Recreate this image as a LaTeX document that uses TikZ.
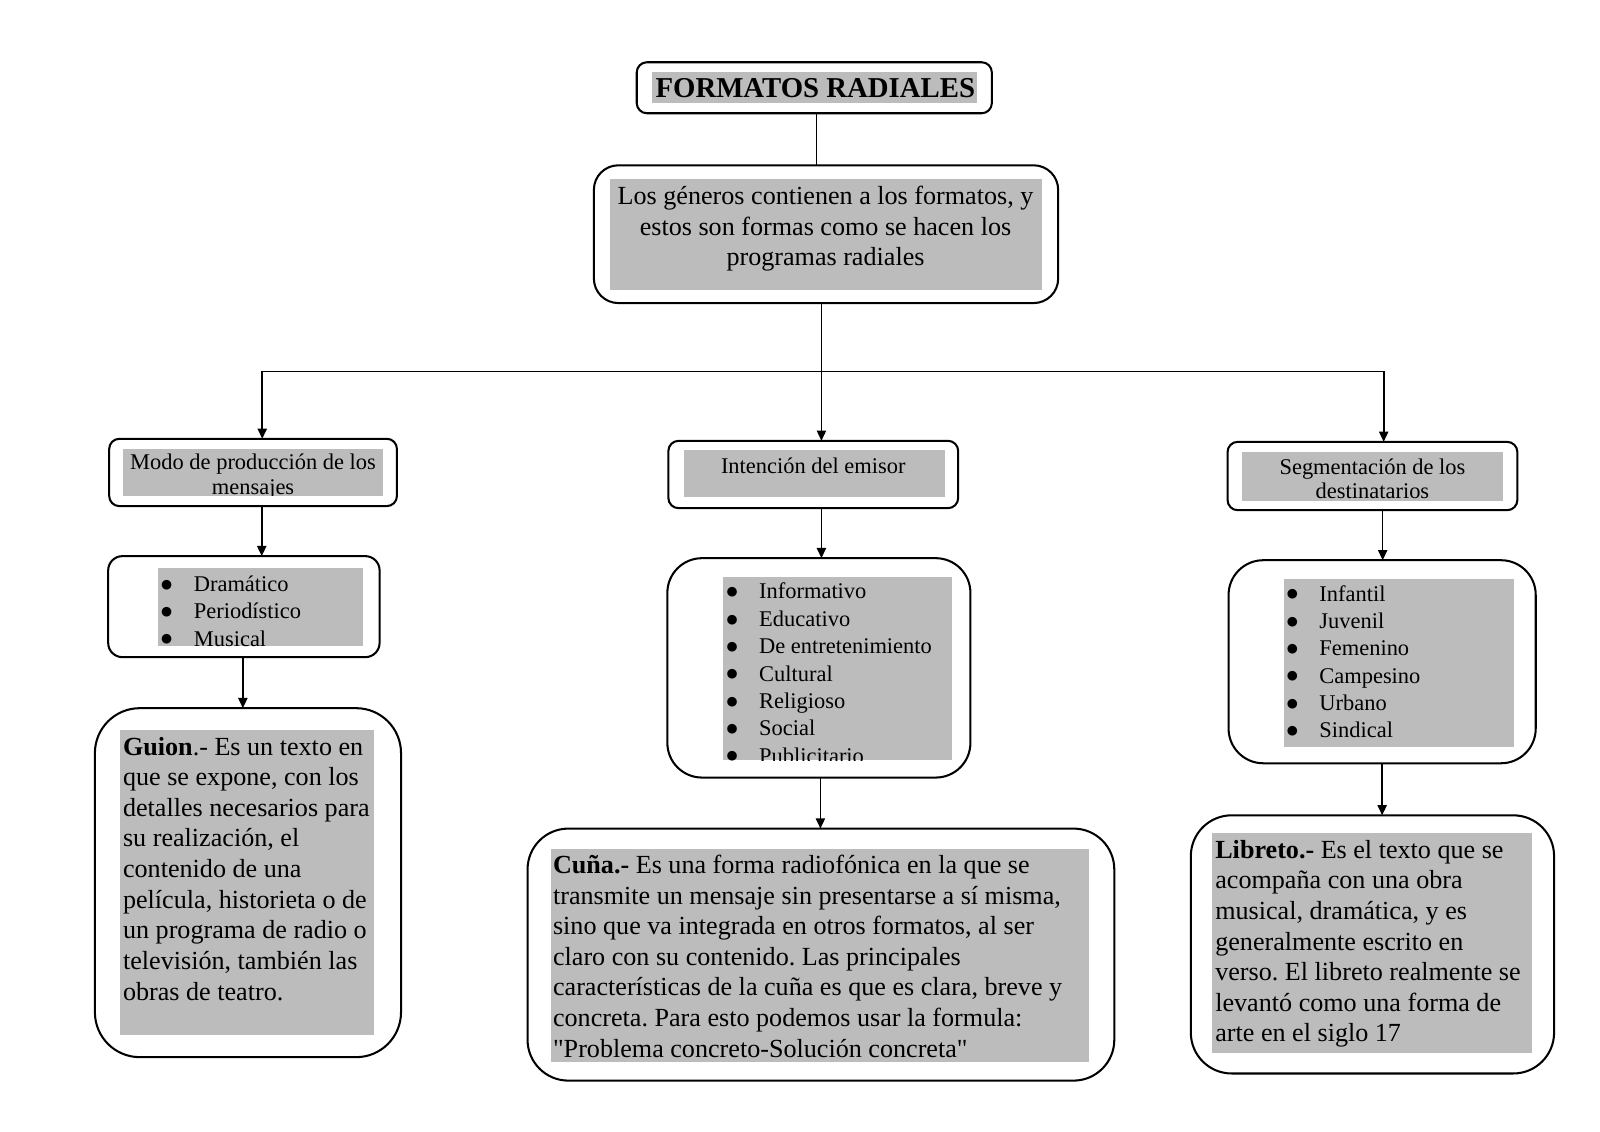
\documentclass[tikz,border=0pt]{standalone}
\usepackage{fontspec}
\setmainfont{Liberation Serif}[Ligatures=TeXOff]
\newfontfamily\dejavu{DejaVu Sans}
\usetikzlibrary{arrows.meta}
\definecolor{shade}{RGB}{188,188,188}
\newcommand{\bul}{\makebox[16pt][l]{\raisebox{1.6pt}{\dejavu\fontsize{6.2}{8}\selectfont ●}}}
\frenchspacing
\begin{document}
\begin{tikzpicture}[x=0.5pt,y=-0.5pt,
  obox/.style={draw=black, line width=1pt, fill=white, inner sep=0pt, outer sep=0pt},
  gbox/.style={fill=shade, draw=none, inner sep=0pt, outer sep=0pt},
  txt/.style={inner sep=0pt, outer sep=0pt, text=black},
  para/.style={txt, anchor=base west, font=\fontsize{12.8}{15}\selectfont},
  head/.style={txt, anchor=base, font=\fontsize{11}{12}\selectfont},
  lst/.style={txt, anchor=base west, font=\fontsize{11}{13.4}\selectfont},
  conn/.style={line width=0.8pt, draw=black},
  arr/.style={conn, -{Triangle[length=5pt,width=4.5pt]}}
]
\useasboundingbox (0,0) rectangle (1568,1108.4);

% ---------- title ----------
\node[obox, rounded corners=5pt, minimum width=174pt, minimum height=25pt] (title) at (798,86) {};
\node[gbox, minimum width=159pt, minimum height=15.25pt] (titleg) at (798,85.75) {};
\node[txt, anchor=base, font=\fontsize{14.1}{16}\selectfont\bfseries] (titlet) at (799,96) {FORMATOS RADIALES};

% ---------- central ----------
\node[obox, rounded corners=12pt, minimum width=227.5pt, minimum height=67.5pt] (central) at (809.5,229.5) {};
\node[gbox, minimum width=211.5pt, minimum height=54.5pt] (centralg) at (809.5,229.5) {};
\node[txt, anchor=base, font=\fontsize{12.8}{15}\selectfont] (centralt) at (809,200.5)
  {\begin{tabular}[t]{@{}c@{}}Los géneros contienen a los formatos, y\\ estos son formas como se hacen los\\ programas radiales\end{tabular}};

% ---------- level 2 headers ----------
\node[obox, rounded corners=5pt, minimum width=141pt, minimum height=33pt] (lh) at (248,463) {};
\node[gbox, minimum width=127pt, minimum height=23pt] (lhg) at (248,463) {};
\begin{scope}
  \clip (lhg.south west) rectangle (lhg.north east);
  \node[head] (lht) at (248,460.5) {\begin{tabular}[t]{@{}c@{}}Modo de producción de los\\ mensajes\end{tabular}};
\end{scope}

\node[obox, rounded corners=5pt, minimum width=142pt, minimum height=33pt] (mh) at (797,465) {};
\node[gbox, minimum width=128pt, minimum height=23pt] (mhg) at (798,464) {};
\node[head] (mht) at (797,464) {Intención del emisor};

\node[obox, rounded corners=5pt, minimum width=142pt, minimum height=33.5pt] (rh) at (1345,466.5) {};
\node[gbox, minimum width=128pt, minimum height=24pt] (rhg) at (1345,467) {};
\node[head] (rht) at (1345,465) {\begin{tabular}[t]{@{}c@{}}Segmentación de los\\ destinatarios\end{tabular}};

% ---------- lists ----------
\node[obox, rounded corners=7pt, minimum width=133pt, minimum height=49.5pt] (ll) at (239,594.5) {};
\node[gbox, minimum width=100.5pt, minimum height=38pt] (llg) at (255.5,595) {};
\node[lst] (llt) at (158,579.5) {\begin{tabular}[t]{@{}l@{}}\bul Dramático\\ \bul Periodístico\\ \bul Musical\end{tabular}};

\node[obox, rounded corners=17pt, minimum width=148.5pt, minimum height=107.5pt] (ml) at (802.5,654.5) {};
\node[gbox, minimum width=112pt, minimum height=90pt] (mlg) at (821,655) {};
\begin{scope}
  \clip (mlg.south west) rectangle (mlg.north east);
  \node[lst] (mlt) at (712,587) {\begin{tabular}[t]{@{}l@{}}\bul Informativo\\ \bul Educativo\\ \bul De entretenimiento\\ \bul Cultural\\ \bul Religioso\\ \bul Social\\ \bul Publicitario\end{tabular}};
\end{scope}

\node[obox, rounded corners=17pt, minimum width=150.5pt, minimum height=99.5pt] (rl) at (1354.5,648.5) {};
\node[gbox, minimum width=113pt, minimum height=82.5pt] (rlg) at (1371,649.5) {};
\node[lst] (rlt) at (1261,589) {\begin{tabular}[t]{@{}l@{}}\bul Infantil\\ \bul Juvenil\\ \bul Femenino\\ \bul Campesino\\ \bul Urbano\\ \bul Sindical\end{tabular}};

% ---------- bottom paragraphs ----------
\node[obox, rounded corners=22pt, minimum width=150pt, minimum height=171pt] (guion) at (243,865) {};
\node[gbox, minimum width=124.5pt, minimum height=149.5pt] (guiong) at (242.5,864.5) {};
\node[para] (guiont) at (120.6,740) {\begin{tabular}[t]{@{}l@{}}\textbf{Guion}.- Es un texto en\\
que se expone, con los\\
detalles necesarios para\\
su realización, el\\
contenido de una\\
película, historieta o de\\
un programa de radio o\\
televisión, también las\\
obras de teatro.\end{tabular}};

\node[obox, rounded corners=20pt, minimum width=287.5pt, minimum height=123.5pt] (cuna) at (804.5,935.5) {};
\node[gbox, minimum width=263.5pt, minimum height=104.5pt] (cunag) at (803.5,936.5) {};
\node[para] (cunat) at (542,856) {\begin{tabular}[t]{@{}l@{}}\textbf{Cuña.-} Es una forma radiofónica en la que se\\
transmite un mensaje sin presentarse a sí misma,\\
sino que va integrada en otros formatos, al ser\\
claro con su contenido. Las principales\\
características de la cuña es que es clara, breve y\\
concreta. Para esto podemos usar la formula:\\
"Problema concreto-Solución concreta"\end{tabular}};

\node[obox, rounded corners=20pt, minimum width=178pt, minimum height=126.5pt] (lib) at (1345,925.5) {};
\node[gbox, minimum width=156.5pt, minimum height=108pt] (libg) at (1344.5,924) {};
\node[para] (libt) at (1191,841) {\begin{tabular}[t]{@{}l@{}}\textbf{Libreto.-} Es el texto que se\\
acompaña con una obra\\
musical, dramática, y es\\
generalmente escrito en\\
verso. El libreto realmente se\\
levantó como una forma de\\
arte en el siglo 17\end{tabular}};

% ---------- connectors ----------
\coordinate (tx) at (800,0);
\coordinate (jl) at (257,364);
\coordinate (jm) at (805,364);
\coordinate (jr) at (1356,364);
\coordinate (xl1) at (256.5,0);
\coordinate (xl2) at (238,0);
\coordinate (xm2) at (804,0);
\coordinate (xr1) at (1355,0);
\coordinate (xr2) at (1354.5,0);

\draw[conn] (title.south -| tx) -- (central.north -| tx);
\draw[conn] (central.south -| jm) -- (jm);
\draw[conn] (jl) -- (jr);
\draw[arr] (jl) -- (jl |- lh.north);
\draw[arr] (jm) -- (jm |- mh.north);
\draw[arr] (jr) -- (jr |- rh.north);
\draw[arr] (lh.south -| xl1) -- (ll.north -| xl1);
\draw[arr] (ll.south -| xl2) -- (guion.north -| xl2);
\draw[arr] (mh.south -| jm) -- (ml.north -| jm);
\draw[arr] (ml.south -| xm2) -- (cuna.north -| xm2);
\draw[arr] (rh.south -| xr1) -- (rl.north -| xr1);
\draw[arr] (rl.south -| xr2) -- (lib.north -| xr2);
\end{tikzpicture}
\end{document}
